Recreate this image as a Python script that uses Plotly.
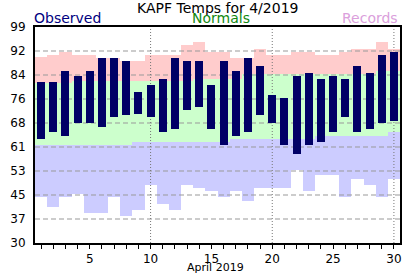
import plotly.graph_objects as go

# April 2019 daily temperatures at KAPF
days = list(range(1, 31))
obs_high = [81.4, 81.4, 85.1, 83.3, 85.1, 89.2, 89.2, 88.3, 78.2, 80.4,
            82.3, 89.2, 88.3, 88.3, 80.4, 88.3, 85.1, 89.2, 86.4, 77.3,
            76.4, 83.3, 84.2, 82.3, 83.3, 82.3, 86.4, 84.2, 90.2, 91.1]
obs_low = [63.2, 65.4, 64.1, 68.2, 68.2, 67.2, 70.1, 71.0, 71.1, 70.2,
           65.4, 66.4, 72.4, 73.3, 66.3, 61.3, 64.1, 65.4, 71.0, 68.2,
           61.3, 58.5, 61.3, 62.2, 65.4, 70.1, 65.4, 66.3, 68.2, 69.1]
norm_high = [81.2, 81.2, 81.2, 81.7, 81.7, 81.7, 81.7, 81.7, 81.7, 81.7,
             81.7, 81.7, 81.7, 82.4, 82.4, 82.4, 82.4, 83.9, 83.9, 83.9,
             83.9, 83.9, 83.9, 83.9, 83.9, 83.9, 83.9, 83.9, 85.1, 85.1]
norm_low = [61.3, 61.3, 61.3, 61.3, 61.3, 61.3, 61.3, 61.3, 62.2, 62.2,
            62.2, 62.2, 62.2, 62.2, 62.2, 62.2, 63.2, 63.2, 63.2, 63.2,
            63.2, 63.2, 63.2, 64.1, 64.1, 64.1, 64.1, 64.1, 64.1, 65.4]
rec_high = [89.3, 90.2, 91.1, 90.2, 90.2, 89.2, 89.2, 88.3, 88.3, 90.2,
            90.2, 90.2, 93.3, 94.2, 91.1, 91.1, 89.2, 89.2, 92.1, 90.2,
            90.2, 91.1, 91.1, 90.2, 90.2, 91.1, 92.1, 92.1, 94.2, 92.1]
rec_low = [44.7, 41.6, 44.7, 45.5, 39.6, 39.6, 44.7, 38.7, 40.6, 48.4,
           42.5, 40.6, 48.4, 47.5, 46.5, 44.7, 46.5, 43.4, 47.5, 47.5,
           47.5, 53.4, 46.5, 51.6, 51.6, 44.7, 50.3, 48.4, 44.7, 50.3]

y_min, y_max = 30, 99
y_labels = ["30", "37", "45", "53", "61", "68", "76", "84", "92", "99"]
y_ticks = [y_min + i * (y_max - y_min) / 9 for i in range(10)]
x_ticks = [5, 10, 15, 20, 25, 30]
x_vlines = [10, 20, 30]

FONT = "DejaVu Sans"
PINK, GREEN, BLUE, NAVY = "#ffcccc", "#ccffcc", "#ccccff", "#000066"

fig = go.Figure()


def band(lo, hi, color):
    return go.Bar(x=days, y=[h - l for h, l in zip(hi, lo)], base=lo, width=1,
                  marker=dict(color=color, line=dict(width=0)),
                  hoverinfo="skip", showlegend=False)


fig.add_trace(band(norm_high, rec_high, PINK))
fig.add_trace(band(norm_low, norm_high, GREEN))
fig.add_trace(band(rec_low, norm_low, BLUE))

# grid drawn over the bands but under the observed bars
gx, gy = [], []
for v in y_ticks[1:-1]:
    gx += [0.5, 30.5, None]
    gy += [v, v, None]
fig.add_trace(go.Scatter(x=gx, y=gy, mode="lines", hoverinfo="skip", showlegend=False,
                         line=dict(color="#999999", width=1, dash="5px,3px")))
vx, vy = [], []
for d in x_vlines:
    vx += [d, d, None]
    vy += [y_min, y_max, None]
fig.add_trace(go.Scatter(x=vx, y=vy, mode="lines", hoverinfo="skip", showlegend=False,
                         line=dict(color="#777777", width=1, dash="1px,2px")))

fig.add_trace(go.Bar(x=days, y=[h - l for h, l in zip(obs_high, obs_low)], base=obs_low,
                     width=0.67, marker=dict(color=NAVY, line=dict(width=0)),
                     xaxis="x2", yaxis="y2", showlegend=False))

fig.update_layout(
    width=412, height=276,
    margin=dict(l=30, r=10, t=27, b=30),
    paper_bgcolor="white", plot_bgcolor="white",
    barmode="overlay", bargap=0,
    font=dict(family=FONT, color="black", size=12),
    xaxis=dict(range=[0.5, 30.5], tickvals=x_ticks, ticks="outside", ticklen=4,
               tickcolor="black", showgrid=False, zeroline=False,
               showline=True, linecolor="black", linewidth=2, mirror=True,
               minor=dict(tickvals=days, ticks="outside", ticklen=4, tickcolor="black"),
               tickfont=dict(size=12)),
    yaxis=dict(range=[y_min, y_max], tickvals=y_ticks, ticktext=y_labels, ticks="",
               showgrid=False, zeroline=False, showline=True, linecolor="black",
               linewidth=2, mirror=True, tickfont=dict(size=12), ticklabelstandoff=5),
    xaxis2=dict(range=[0.5, 30.5], overlaying="x", visible=False),
    yaxis2=dict(range=[y_min, y_max], overlaying="y", visible=False),
)

fig.add_annotation(text="KAPF Temps for 4/2019", xref="paper", yref="paper", x=0.5, y=1,
                   yanchor="bottom", yshift=9, showarrow=False,
                   font=dict(size=14, color="black"))
fig.add_annotation(text="Observed", xref="paper", yref="paper", x=0, y=1, xanchor="left",
                   xshift=-3, yanchor="bottom", yshift=-1, showarrow=False,
                   font=dict(size=14, color="#000080"))
fig.add_annotation(text="Normals", xref="paper", yref="paper", x=0.51, y=1,
                   yanchor="bottom", yshift=-1, showarrow=False,
                   font=dict(size=14, color="#118811"))
fig.add_annotation(text="Records", xref="paper", yref="paper", x=1, y=1, xanchor="right",
                   yanchor="bottom", yshift=-1, showarrow=False,
                   font=dict(size=14, color="#dba0dc"))
fig.add_annotation(text="April 2019", xref="paper", yref="paper", x=0.495, y=0,
                   yanchor="top", yshift=-16, showarrow=False,
                   font=dict(size=11, color="black"))

# the page's default body margin would push the figure 8px off the corner
fig.write_html("out.html", config={"displayModeBar": False},
               post_script="document.body.style.margin='0';")
